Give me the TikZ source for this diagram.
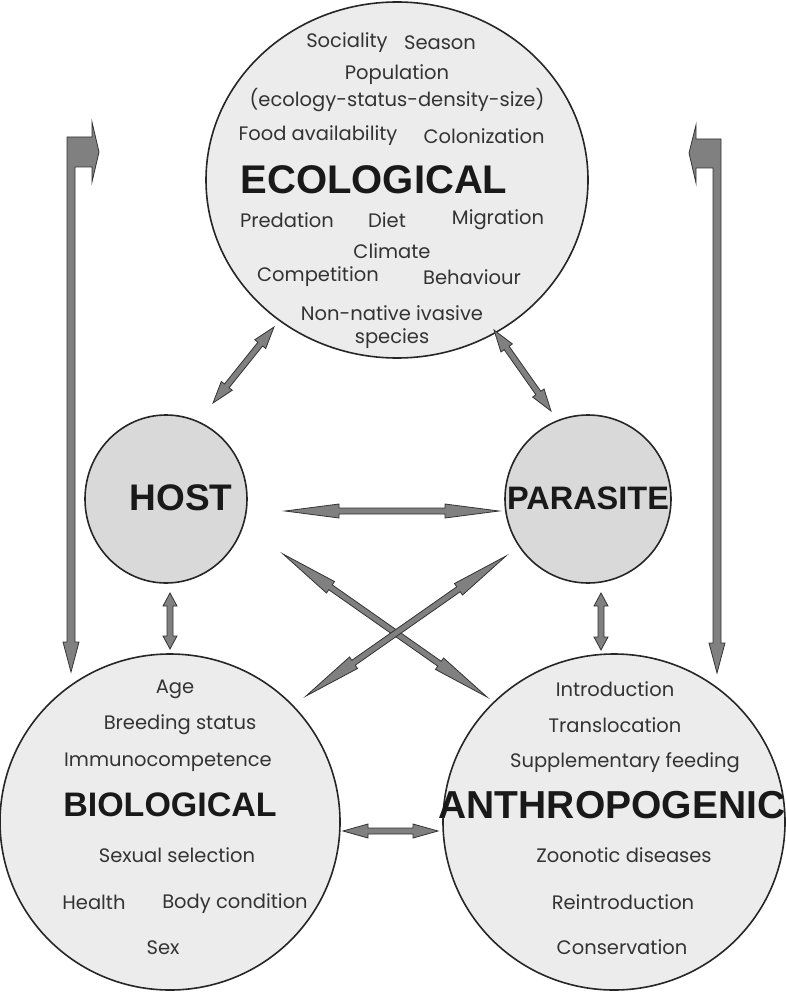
\documentclass[tikz,border=0pt]{standalone}
\usepackage{fontspec}
\setmainfont{Poppins}
\newfontfamily\headfont{Liberation Sans}
\usetikzlibrary{shapes.geometric,calc}

\definecolor{circfill}{gray}{0.925}
\definecolor{smallfill}{gray}{0.85}
\definecolor{arrowgray}{gray}{0.5}
\definecolor{ink}{gray}{0.2}

\tikzset{
  bigcirc/.style={ellipse, draw=black!85, line width=1.6pt, fill=circfill, inner sep=0pt},
  smallcirc/.style={ellipse, draw=black!85, line width=1.6pt, fill=smallfill, inner sep=0pt},
  factor/.style={text=ink, inner sep=0pt, font=\fontsize{19.5}{22}\selectfont},
  headlabel/.style={text=black!90, inner sep=0pt},
  arrowfill/.style={fill=arrowgray, draw=ink, line width=0.8pt, line join=miter},
}

% double block arrow: from, to, head length
\newcommand{\dblarrow}[3]{%
  \path (#1) coordinate (p1) (#2) coordinate (p2);
  \coordinate (h1) at ($(p1)!#3!(p2)$);
  \coordinate (h2) at ($(p2)!#3!(p1)$);
  \filldraw[arrowfill] (p1) -- ($(h1)!7pt!90:(p2)$) -- ($(h1)!3pt!90:(p2)$)
    -- ($(h2)!3pt!-90:(p1)$) -- ($(h2)!7pt!-90:(p1)$) -- (p2)
    -- ($(h2)!7pt!90:(p1)$) -- ($(h2)!3pt!90:(p1)$)
    -- ($(h1)!3pt!-90:(p2)$) -- ($(h1)!7pt!-90:(p2)$) -- cycle;
}

\begin{document}
\begin{tikzpicture}[x=1pt,y=-1pt]
\useasboundingbox (0,0) rectangle (785,995);

% circles
\node[bigcirc, minimum width=382pt, minimum height=356pt] (eco) at (397,180) {};
\node[smallcirc, minimum width=162pt, minimum height=168pt] (host) at (166,499) {};
\node[smallcirc, minimum width=166pt, minimum height=168pt] (para) at (588,499) {};
\node[bigcirc, minimum width=340pt, minimum height=336pt] (bio) at (170,822) {};
\node[bigcirc, minimum width=342pt, minimum height=336pt] (anthro) at (614,822) {};

% ecological factors
\node[factor] (soc) at (347,43) {Sociality};
\node[factor] (sea) at (440,43) {Season};
\node[factor] (pop) at (397,75) {Population};
\node[factor] (popd) at (397,100) {(ecology-status-density-size)};
\node[factor] (food) at (318,136) {Food availability};
\node[factor] (col) at (484,136) {Colonization};
\node[headlabel, font=\headfont\bfseries\fontsize{40}{42}\selectfont] (ecot) at (374,180) {ECOLOGICAL};
\node[factor] (pred) at (287,220) {Predation};
\node[factor] (diet) at (387,220) {Diet};
\node[factor] (mig) at (498,220) {Migration};
\node[factor] (clim) at (392,251) {Climate};
\node[factor] (comp) at (318,277) {Competition};
\node[factor] (beh) at (472,277) {Behaviour};
\node[factor] (inv) at (392,313) {Non-native ivasive};
\node[factor] (spec) at (392,339) {species};

% host and parasite
\node[headlabel, font=\headfont\bfseries\fontsize{37}{40}\selectfont] (hostt) at (181,498) {HOST};
\node[headlabel, font=\headfont\bfseries\fontsize{32.5}{40}\selectfont] (parat) at (588,498) {PARASITE};

% biological factors
\node[factor] (age) at (175,689) {Age};
\node[factor] (breed) at (180,725) {Breeding status};
\node[factor] (immu) at (168,762) {Immunocompetence};
\node[headlabel, font=\headfont\bfseries\fontsize{34}{40}\selectfont] (biot) at (170,805) {BIOLOGICAL};
\node[factor] (sexsel) at (177,855) {Sexual selection};
\node[factor] (health) at (94,902) {Health};
\node[factor] (body) at (235,904) {Body condition};
\node[factor] (sex) at (163,948) {Sex};

% anthropogenic factors
\node[factor] (intro) at (615,689) {Introduction};
\node[factor] (trans) at (615,725) {Translocation};
\node[factor] (supp) at (625,763) {Supplementary feeding};
\node[headlabel, font=\headfont\bfseries\fontsize{39}{40}\selectfont] (anthrot) at (612,805) {ANTHROPOGENIC};
\node[factor] (zoo) at (624,855) {Zoonotic diseases};
\node[factor] (reintro) at (623,902) {Reintroduction};
\node[factor] (cons) at (622,947) {Conservation};

% arrow ends
\coordinate (eh1) at (274,327);  \coordinate (eh2) at (213,403);
\coordinate (ep1) at (494,330);  \coordinate (ep2) at (551,411);
\coordinate (hp1) at (285,511);  \coordinate (hp2) at (499,511);
\coordinate (ha1) at (283,554);  \coordinate (ha2) at (487,697);
\coordinate (pb1) at (506,556);  \coordinate (pb2) at (306,696);
\coordinate (hb1) at (170,593);  \coordinate (hb2) at (170,649);
\coordinate (pa1) at (601,593);  \coordinate (pa2) at (601,650);
\coordinate (ba1) at (343,831);  \coordinate (ba2) at (438,831);

\dblarrow{eh1}{eh2}{22pt}
\dblarrow{ep1}{ep2}{22pt}
\dblarrow{hp1}{hp2}{54pt}
\dblarrow{ha1}{ha2}{58pt}
\dblarrow{pb1}{pb2}{58pt}
\dblarrow{hb1}{hb2}{13pt}
\dblarrow{pa1}{pa2}{13pt}
\dblarrow{ba1}{ba2}{25pt}

% side arrows
\filldraw[arrowfill] (67,137) -- (92,137) -- (92,122) -- (99,152) -- (92,182) -- (92,167)
  -- (75,167) -- (75,642) -- (79,642) -- (71,672) -- (63,642) -- (67,642) -- cycle;
\filldraw[arrowfill] (721,139) -- (696,139) -- (696,125) -- (689,153) -- (696,183) -- (696,168)
  -- (713,168) -- (713,643) -- (709,643) -- (717,673) -- (725,643) -- (721,643) -- cycle;
\end{tikzpicture}
\end{document}
